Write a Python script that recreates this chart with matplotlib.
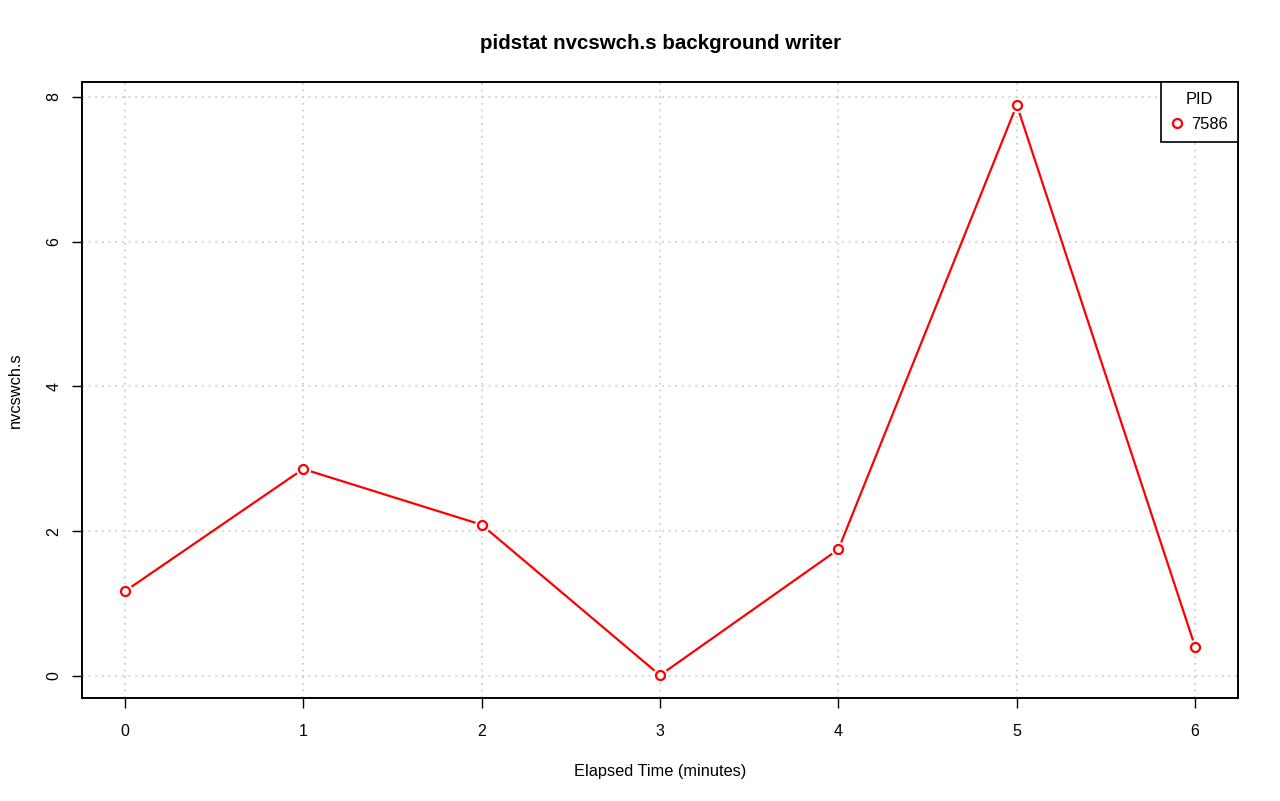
import matplotlib
matplotlib.use("Agg")
import matplotlib.pyplot as plt
from matplotlib.lines import Line2D

minutes = [0, 1, 2, 3, 4, 5, 6]
nvcswch = [1.17, 2.86, 2.09, 0.01, 1.75, 7.89, 0.40]
x_ticks = [0, 1, 2, 3, 4, 5, 6]
y_ticks = [0, 2, 4, 6, 8]
pid_label = "7586"

plt.rcParams['font.family'] = ['Liberation Sans', 'DejaVu Sans']

fig = plt.figure(figsize=(12.8, 8.01), dpi=100)
ax = fig.add_axes([82/1280, 1-698/801, (1238-82)/1280, (698-82)/801])

ax.plot(minutes, nvcswch, color='red', lw=1.6, zorder=3)
ax.plot(minutes, nvcswch, ls='none', marker='o', ms=11, mfc='white', mec='none', zorder=4)
ax.plot(minutes, nvcswch, ls='none', marker='o', ms=6.5, mfc='white', mec='red', mew=1.6, zorder=5)

ax.set_xlim(-0.24, 6.24)
ax.set_ylim(-0.304, 8.207)
ax.set_xticks(x_ticks)
ax.set_yticks(y_ticks)
ax.set_yticklabels([str(v) for v in y_ticks], rotation=90, va='center')
ax.tick_params(axis='x', direction='out', length=7, width=1, labelsize=11.5, colors='black', pad=12)
ax.tick_params(axis='y', direction='out', length=7, width=1, labelsize=11.5, colors='black', pad=8)
ax.grid(True, color='#c8c8c8', ls=(0, (1, 3)), lw=1.2)
ax.set_axisbelow(True)
for s in ax.spines.values():
    s.set_linewidth(1.4)

ax.set_xlabel('Elapsed Time (minutes)', fontsize=11.8, labelpad=18)
ax.set_ylabel('nvcswch.s', fontsize=11.8, labelpad=17)
ax.set_title('pidstat nvcswch.s background writer', fontsize=14.8, fontweight='bold', pad=24)

handle = Line2D([], [], ls='none', marker='o', ms=6.5, mfc='white', mec='red', mew=1.6)
leg = ax.legend([handle], [pid_label], title='PID', loc='upper right', bbox_to_anchor=(1.0, 1.0),
                frameon=True, fancybox=False, fontsize=11.8, title_fontsize=11.8,
                borderaxespad=0, handlelength=0.8, handletextpad=0.45, borderpad=0.6,
                labelspacing=0.6)
leg.get_frame().set_edgecolor('black')
leg.get_frame().set_linewidth(1.2)
leg.get_frame().set_alpha(1)

fig.savefig('out.png', dpi=100)
